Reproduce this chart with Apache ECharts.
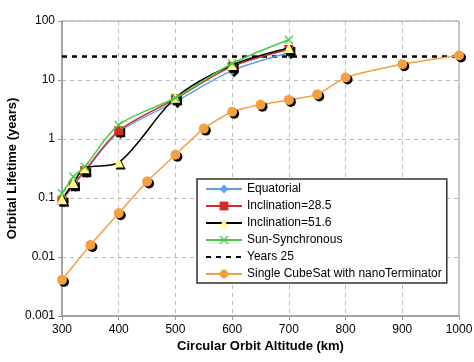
<!DOCTYPE html>
<html><head><meta charset="utf-8">
<script src="https://cdn.jsdelivr.net/npm/echarts@6/dist/echarts.min.js"></script>
<style>html,body{margin:0;padding:0;background:#fff}#c{width:474px;height:362px}</style>
</head><body><div id="c"></div>
<script>
const altitudes = [300, 320, 340, 400, 500, 600, 700];
const equatorial = [0.09, 0.165, 0.28, 1.3, 4.3, 14.4, 29];
const incl285 = [0.092, 0.168, 0.29, 1.38, 4.8, 17, 33];
const incl516 = [0.095, 0.18, 0.32, 0.40, 5.0, 18, 35];
const sunSync = [0.12, 0.23, 0.34, 1.73, 5.0, 19, 48];
const years25X = [300, 1000];
const years25 = [25, 25];
const nanoAlt = [300, 350, 400, 450, 500, 550, 600, 650, 700, 750, 800, 900, 1000];
const nanoTerm = [0.0041, 0.016, 0.055, 0.19, 0.54, 1.5, 2.9, 3.8, 4.6, 5.7, 11, 18.5, 26];
const yTicks = ['0.001', '0.01', '0.1', '1', '10', '100'];
const names = ['Equatorial', 'Inclination=28.5', 'Inclination=51.6', 'Sun-Synchronous', 'Years 25', 'Single CubeSat with nanoTerminator'];

const pair = (xs, ys) => xs.map((x, i) => [x, ys[i]]);
const shadow = {shadowColor: '#000', shadowBlur: 0, shadowOffsetX: 2, shadowOffsetY: 2};
const font = 'Liberation Sans, Arial, sans-serif';
const xPath = 'path://M0,1L1,0L5,4L9,0L10,1L6,5L10,9L9,10L5,6L1,10L0,9L4,5Z';

const chart = echarts.init(document.getElementById('c'));
chart.setOption({
  animation: false,
  grid: {left: 62, right: 15, top: 21, bottom: 46, show: true, borderColor: '#999', borderWidth: 1,
    containLabel: false, outerBoundsMode: 'none'},
  xAxis: {
    type: 'value', min: 300, max: 1000, interval: 100,
    name: 'Circular Orbit Altitude (km)', nameLocation: 'middle', nameGap: 24, nameMoveOverlap: false,
    nameTextStyle: {fontFamily: font, fontWeight: 'bold', fontSize: 13, color: '#000'},
    axisLine: {lineStyle: {color: '#999', width: 1.5}},
    axisTick: {show: true, length: 4, lineStyle: {color: '#999'}},
    axisLabel: {fontFamily: font, fontSize: 12, color: '#000', margin: 8, formatter: v => String(v)},
    splitLine: {show: true, lineStyle: {type: [4, 4], color: '#bbb'}}
  },
  yAxis: {
    type: 'log', logBase: 10, min: 0.001, max: 100,
    name: 'Orbital Lifetime (years)', nameLocation: 'middle', nameGap: 43, nameRotate: 90, nameMoveOverlap: false,
    nameTextStyle: {fontFamily: font, fontWeight: 'bold', fontSize: 13, color: '#000'},
    axisLine: {show: true, lineStyle: {color: '#999', width: 1.5}},
    axisTick: {show: true, length: 4, lineStyle: {color: '#999'}},
    axisLabel: {fontFamily: font, fontSize: 12, color: '#000', margin: 7,
      formatter: v => { const s = yTicks.find(t => Math.abs(parseFloat(t) - v) / v < 1e-6); return s || ''; }},
    splitLine: {show: true, lineStyle: {type: [4, 4], color: '#bbb'}}
  },
  legend: {
    orient: 'vertical', left: 197, top: 179,
    backgroundColor: '#fff', borderColor: '#333', borderWidth: 1.5, borderRadius: 0,
    padding: [4, 5, 3, 8], itemGap: 5, itemWidth: 36, itemHeight: 11,
    textStyle: {fontFamily: font, fontSize: 12, color: '#000'},
    data: names.map((n, i) => i === 4 ? {name: n, itemStyle: {opacity: 0}} : {name: n})
  },
  series: [
    {name: names[0], type: 'line', smooth: 0.3, data: pair(altitudes, equatorial),
      symbol: 'diamond', symbolSize: 9, lineStyle: {color: '#5aa0f0', width: 1.5},
      itemStyle: Object.assign({color: '#5aa0f0'}, shadow), z: 2},
    {name: names[1], type: 'line', smooth: 0.3, data: pair(altitudes, incl285),
      symbol: 'rect', symbolSize: 9, lineStyle: {color: '#d42a2a', width: 1.5},
      itemStyle: Object.assign({color: '#d42a2a'}, shadow), z: 3},
    {name: names[2], type: 'line', smooth: 0.3, data: pair(altitudes, incl516),
      symbol: 'triangle', symbolSize: 10, lineStyle: {color: '#000', width: 1.5},
      itemStyle: Object.assign({color: '#ffff88'}, shadow), z: 4},
    {name: names[3], type: 'line', smooth: 0.3, data: pair(altitudes, sunSync),
      symbol: xPath, symbolSize: 9, lineStyle: {color: '#3fce3f', width: 1.5},
      itemStyle: {color: '#3fce3f'}, z: 5},
    {name: names[4], type: 'line', data: pair(years25X, years25), symbol: 'none',
      lineStyle: {color: '#000', width: 2.5, type: [5, 5]}, itemStyle: {color: '#000'}, z: 1},
    {name: names[5], type: 'line', smooth: 0.2, data: pair(nanoAlt, nanoTerm),
      symbol: 'circle', symbolSize: 10, lineStyle: {color: '#f5a040', width: 1.5},
      itemStyle: Object.assign({color: '#f5a040'}, shadow), z: 6}
  ]
});
</script></body></html>
